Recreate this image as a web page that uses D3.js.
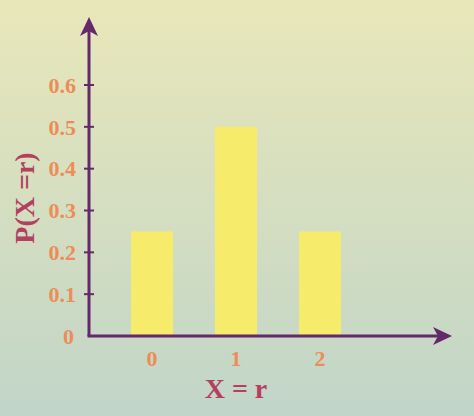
<!DOCTYPE html>
<html><head><meta charset="utf-8">
<script src="https://cdn.jsdelivr.net/npm/d3@7"></script>
<style>body{margin:0}</style></head>
<body><div id="chart"></div>
<script>
var categories=["0","1","2"];
var values=[0.25,0.5,0.25];
var yTicks=[0,0.1,0.2,0.3,0.4,0.5,0.6];

var W=474,H=416;
var svg=d3.select("#chart").append("svg").attr("width",W).attr("height",H);
var grad=svg.append("defs").append("linearGradient").attr("id","bg").attr("x1",0).attr("y1",0).attr("x2",0).attr("y2",1);
grad.append("stop").attr("offset","0%").attr("stop-color","#e8e7b9");
grad.append("stop").attr("offset","100%").attr("stop-color","#c1d5c8");
svg.append("rect").attr("width",W).attr("height",H).style("fill","url(#bg)");

var axisCol="#65286b", tickCol="#ec8d58", labCol="#b3405f";
var ox=89, oy=336;
var y=d3.scaleLinear().domain([0,0.6]).range([oy,85]);
var x=d3.scaleBand().domain(categories).range([110,362]).paddingInner(0.5).paddingOuter(0.25);

svg.selectAll(".bar").data(values).enter().append("rect")
  .attr("x",function(d,i){return x(categories[i]);})
  .attr("y",function(d){return y(d);})
  .attr("width",x.bandwidth())
  .attr("height",function(d){return oy-y(d);})
  .style("fill","#f7eb6b");

// axes
svg.append("line").attr("x1",ox).attr("y1",oy).attr("x2",ox).attr("y2",26).style("stroke",axisCol).style("stroke-width",3);
svg.append("line").attr("x1",ox-1.5).attr("y1",oy).attr("x2",442).attr("y2",oy).style("stroke",axisCol).style("stroke-width",3);
svg.append("path").attr("d","M"+ox+" 17 L"+(ox-9)+" 36 L"+ox+" 31 L"+(ox+9)+" 36 Z").style("fill",axisCol);
svg.append("path").attr("d","M452 "+oy+" L433 "+(oy-9)+" L438 "+oy+" L433 "+(oy+9)+" Z").style("fill",axisCol);

var font="'Liberation Serif',serif";
yTicks.forEach(function(t){
  if(t>0) svg.append("line").attr("x1",ox-5).attr("x2",ox+5).attr("y1",y(t)).attr("y2",y(t)).style("stroke",axisCol).style("stroke-width",2);
  svg.append("text").attr("x",t==0?74:76).attr("y",y(t)).attr("dy","0.35em").attr("text-anchor","end")
    .style("font-family",font).style("font-weight","bold").style("font-size","22px").style("fill",tickCol)
    .text(t==0?"0":t.toFixed(1));
});
categories.forEach(function(c){
  svg.append("text").attr("x",x(c)+x.bandwidth()/2).attr("y",366).attr("text-anchor","middle")
    .style("font-family",font).style("font-weight","bold").style("font-size","22px").style("fill",tickCol).text(c);
});
svg.append("text").attr("x",236).attr("y",398).attr("text-anchor","middle")
  .style("font-family",font).style("font-weight","bold").style("font-size","28px").style("fill",labCol).text("X = r");
svg.append("text").attr("transform","translate(34,198) rotate(-90)").attr("text-anchor","middle")
  .style("font-family",font).style("font-weight","bold").style("font-size","28px").style("fill",labCol).text("P(X =r)");
</script></body></html>
